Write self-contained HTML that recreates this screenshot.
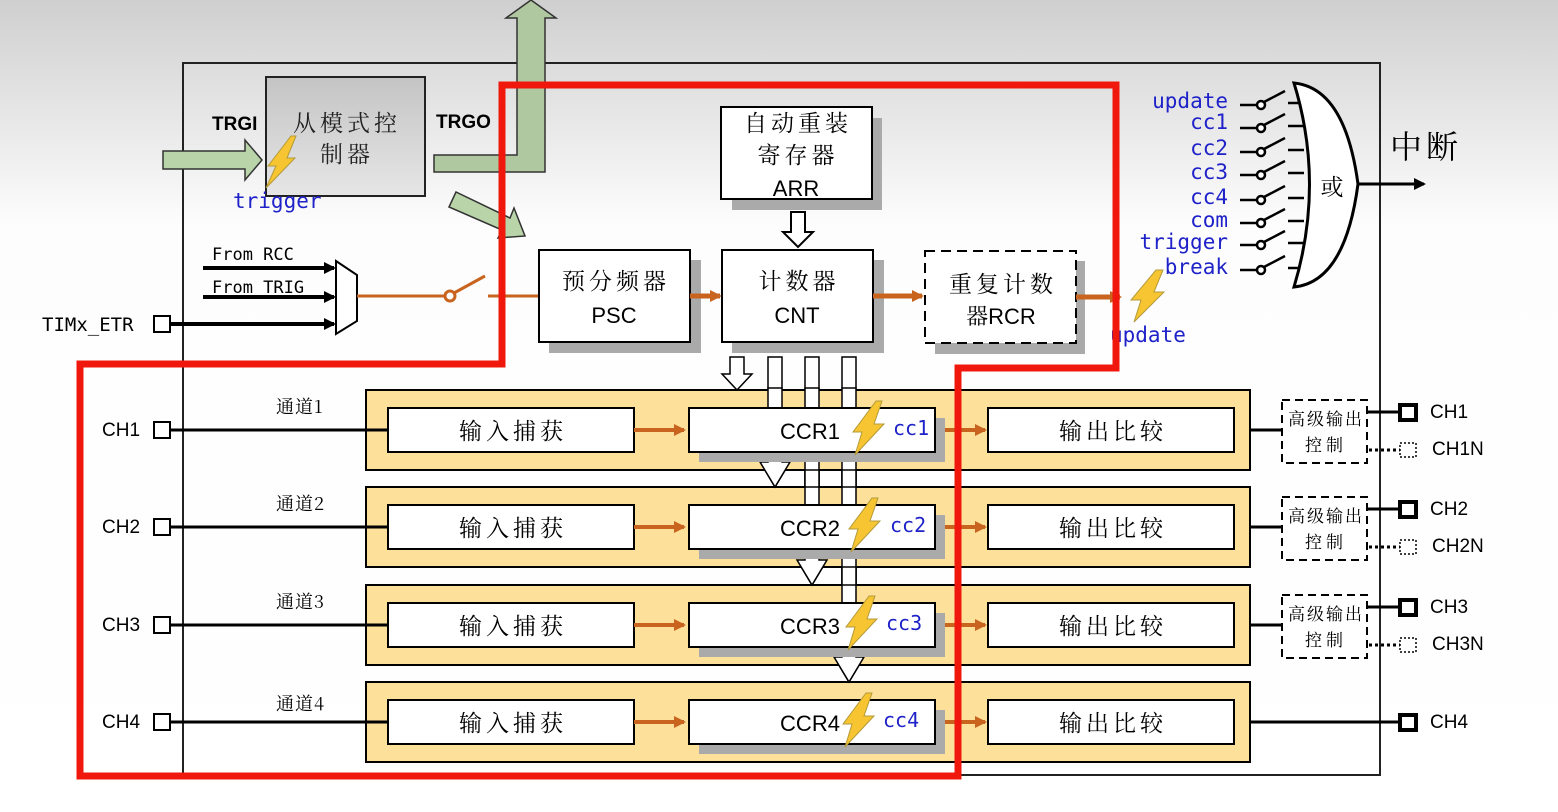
<!DOCTYPE html>
<html><head><meta charset="utf-8"><style>
html,body{margin:0;padding:0;}
body{width:1558px;height:807px;overflow:hidden;background:#fff;}
text{font-family:"Liberation Sans","Noto Serif CJK SC","Noto Sans CJK SC",sans-serif;}
text.m,.m text{font-family:"DejaVu Sans Mono","Liberation Mono",monospace;}
text.cj{font-family:"Noto Serif CJK SC","Noto Sans CJK SC",serif;letter-spacing:4px;}
</style></head><body>
<svg width="1558" height="807" viewBox="0 0 1558 807" xmlns="http://www.w3.org/2000/svg">
<defs>
<linearGradient id="bg" x1="0" y1="0" x2="0" y2="1">
<stop offset="0" stop-color="#cfcfcf"/><stop offset="0.28" stop-color="#fdfdfd"/><stop offset="1" stop-color="#ffffff"/>
</linearGradient>
<linearGradient id="gb" x1="0" y1="0" x2="0" y2="1">
<stop offset="0" stop-color="#c4c4c4"/><stop offset="1" stop-color="#e6e6e6"/>
</linearGradient>
<marker id="oa" markerWidth="12" markerHeight="12" refX="10" refY="6" orient="auto" markerUnits="userSpaceOnUse"><path d="M0,0 L12,6 L0,12Z" fill="#c8641e"/></marker>
<marker id="ba" markerWidth="12" markerHeight="12" refX="10" refY="6" orient="auto" markerUnits="userSpaceOnUse"><path d="M0,0 L12,6 L0,12Z" fill="#000"/></marker>
</defs>
<rect width="1558" height="807" fill="url(#bg)"/>
<rect x="183" y="63" width="1197" height="712" fill="none" stroke="#222" stroke-width="2"/>

<path d="M163,151 L245,151 L245,140 L262,160 L245,180 L245,169 L163,169Z" fill="#b8d4a8" stroke="#333" stroke-width="1.5"/>
<path d="M434,155 L517,155 L517,18 L506,18 L531,0 L556,18 L545,18 L545,172 L434,172Z" fill="#b0c8a0" stroke="#333" stroke-width="1.5"/>
<path d="M449,207 L456,192 L510,218 L514,208 L525,236 L498,238 L502,230Z" fill="#b8d4a8" stroke="#333" stroke-width="1.5"/>

<rect x="266" y="77" width="159" height="119" fill="url(#gb)" stroke="#222" stroke-width="2"/>
<text x="347" y="131" font-size="23" text-anchor="middle" class="cj" fill="#222">从模式控</text>
<text x="347" y="162" font-size="23" text-anchor="middle" class="cj" fill="#222">制器</text>
<text x="212" y="130" font-size="19" font-weight="bold">TRGI</text>
<text x="436" y="128" font-size="19" font-weight="bold">TRGO</text>
<path d="M291,136 L268,166 L276,166 L266,188 L295,158 L287,158 L296,136Z" fill="#f6c531" stroke="#b49a3a" stroke-width="1"/>
<text x="233" y="208" font-size="21" class="m" fill="#1e22c8">trigger</text>

<text x="212" y="260" font-size="17" class="m">From RCC</text>
<text x="212" y="293" font-size="17" class="m">From TRIG</text>
<line x1="203" y1="268" x2="334" y2="268" stroke="#000" stroke-width="4" marker-end="url(#ba)"/>
<line x1="203" y1="297" x2="334" y2="297" stroke="#000" stroke-width="4" marker-end="url(#ba)"/>
<line x1="170" y1="324" x2="334" y2="324" stroke="#000" stroke-width="4" marker-end="url(#ba)"/>
<rect x="154" y="316" width="16" height="16" fill="#fff" stroke="#000" stroke-width="2"/>
<text x="42" y="331" font-size="19" class="m">TIMx_ETR</text>
<path d="M336,261 L357,275 L357,321 L336,334Z" fill="#fff" stroke="#000" stroke-width="2"/>
<line x1="357" y1="296" x2="445" y2="296" stroke="#c8641e" stroke-width="3"/>
<circle cx="450" cy="296" r="5" fill="#fff" stroke="#c8641e" stroke-width="3"/>
<line x1="454" y1="293" x2="485" y2="276" stroke="#c8641e" stroke-width="3"/>
<line x1="488" y1="296" x2="539" y2="296" stroke="#c8641e" stroke-width="3"/>

<rect x="732" y="118" width="150" height="92" fill="#aaa"/>
<rect x="721" y="107" width="151" height="92" fill="#fff" stroke="#000" stroke-width="2"/>
<text x="798" y="131" font-size="23" text-anchor="middle" class="cj">自动重装</text>
<text x="798" y="163" font-size="23" text-anchor="middle" class="cj">寄存器</text>
<text x="796" y="196" font-size="22" text-anchor="middle">ARR</text>
<path d="M791,212 L805,212 L805,232 L813,232 L798,247 L783,232 L791,232Z" fill="#fff" stroke="#000" stroke-width="2"/>

<rect x="549" y="260" width="152" height="93" fill="#aaa"/>
<rect x="539" y="250" width="151" height="92" fill="#fff" stroke="#000" stroke-width="2"/>
<text x="616" y="289" font-size="23" text-anchor="middle" class="cj">预分频器</text>
<text x="614" y="323" font-size="22" text-anchor="middle">PSC</text>
<line x1="690" y1="296" x2="720" y2="296" stroke="#c8641e" stroke-width="5" marker-end="url(#oa)"/>

<rect x="732" y="260" width="152" height="93" fill="#aaa"/>
<rect x="722" y="250" width="151" height="92" fill="#fff" stroke="#000" stroke-width="2"/>
<text x="799" y="289" font-size="23" text-anchor="middle" class="cj">计数器</text>
<text x="797" y="323" font-size="22" text-anchor="middle">CNT</text>
<line x1="873" y1="296" x2="922" y2="296" stroke="#c8641e" stroke-width="5" marker-end="url(#oa)"/>

<rect x="935" y="261" width="150" height="93" fill="#aaa"/>
<rect x="925" y="251" width="151" height="92" fill="#fff" stroke="#000" stroke-width="2" stroke-dasharray="10,6"/>
<text x="1003" y="292" font-size="23" text-anchor="middle" class="cj">重复计数</text>
<text x="1001" y="324" font-size="22" text-anchor="middle">器RCR</text>
<line x1="1076" y1="297" x2="1120" y2="297" stroke="#c8641e" stroke-width="5" marker-end="url(#oa)"/>
<path d="M1156,270 L1131,300 L1141,300 L1134,322 L1164,292 L1154,292 L1163,270Z" fill="#f6c531" stroke="#b49a3a" stroke-width="1"/>
<text x="1110" y="342" font-size="21" class="m" fill="#1e22c8">update</text>

<g font-size="21" class="m" fill="#1e22c8" text-anchor="end">
<text x="1228" y="108">update</text><text x="1228" y="129">cc1</text><text x="1228" y="155">cc2</text><text x="1228" y="179">cc3</text>
<text x="1228" y="204">cc4</text><text x="1228" y="227">com</text><text x="1228" y="249">trigger</text><text x="1228" y="274">break</text>
</g>
<g stroke="#000" stroke-width="2.5" fill="#fff">
<g id="sw"><line x1="1240" y1="105" x2="1256" y2="105"/><circle cx="1261" cy="105" r="4"/><line x1="1264" y1="102" x2="1285" y2="91"/><line x1="1288" y1="103" x2="1304" y2="103" /></g>
<use href="#sw" y="23"/><use href="#sw" y="47"/><use href="#sw" y="70"/><use href="#sw" y="95"/><use href="#sw" y="118"/><use href="#sw" y="140"/><use href="#sw" y="165"/>
</g>
<path d="M1294,83 Q1345,88 1358,184 Q1345,282 1294,287 Q1325,184 1294,83Z" fill="#fff" stroke="#000" stroke-width="3"/>
<text x="1334" y="195" font-size="23" text-anchor="middle" class="cj">或</text>
<line x1="1358" y1="184" x2="1424" y2="184" stroke="#000" stroke-width="3" marker-end="url(#ba)"/>
<text x="1390" y="158" font-size="32" class="cj">中断</text>

<g fill="#fff" stroke="#000" stroke-width="1.5">
<path d="M730,357 L744,357 L744,374 L752,374 L737,390 L722,374 L730,374Z"/>
<path d="M768,357 L782,357 L782,462 L790,462 L775,487 L760,462 L768,462Z"/>
<path d="M805,357 L819,357 L819,560 L827,560 L812,585 L797,560 L805,560Z"/>
<path d="M842,357 L856,357 L856,657 L864,657 L849,682 L834,657 L842,657Z"/>
</g>

<g stroke="#000">
<rect x="366" y="390" width="884" height="80" fill="#fde19a" stroke-width="2"/>
<rect x="366" y="487" width="884" height="80" fill="#fde19a" stroke-width="2"/>
<rect x="366" y="585" width="884" height="80" fill="#fde19a" stroke-width="2"/>
<rect x="366" y="682" width="884" height="80" fill="#fde19a" stroke-width="2"/>
</g>
<g fill="#fff" stroke="#000" stroke-width="1.5">
<path d="M768,388 L782,388 L782,462 L790,462 L775,487 L760,462 L768,462Z"/>
<path d="M805,388 L819,388 L819,560 L827,560 L812,585 L797,560 L805,560Z"/>
<path d="M842,388 L856,388 L856,657 L864,657 L849,682 L834,657 L842,657Z"/>
</g>

<g>
<line x1="170" y1="430" x2="388" y2="430" stroke="#000" stroke-width="3"/>
<rect x="154" y="422" width="16" height="16" fill="#fff" stroke="#000" stroke-width="2"/>
<text x="102" y="436" font-size="19">CH1</text>
<text x="276" y="413" font-size="18" class="cj" style="letter-spacing:1px">通道1</text>
<rect x="388" y="408" width="246" height="44" fill="#fff" stroke="#000" stroke-width="2"/>
<text x="513" y="439" font-size="23" text-anchor="middle" class="cj">输入捕获</text>
<line x1="634" y1="430" x2="684" y2="430" stroke="#c8641e" stroke-width="4" marker-end="url(#oa)"/>
<rect x="699" y="418" width="246" height="44" fill="#aaa"/>
<rect x="689" y="408" width="246" height="44" fill="#fff" stroke="#000" stroke-width="2"/>
<text x="810" y="439" font-size="22" text-anchor="middle">CCR1</text>
<text x="893" y="435" font-size="20" class="m" fill="#1e22c8">cc1</text>
<path d="M876,401 L853,432 L862,432 L855,455 L884,424 L874,424 L882,401Z" fill="#f6c531" stroke="#b49a3a" stroke-width="1"/>
<line x1="945" y1="430" x2="985" y2="430" stroke="#c8641e" stroke-width="4" marker-end="url(#oa)"/>
<rect x="988" y="408" width="246" height="44" fill="#fff" stroke="#000" stroke-width="2"/>
<text x="1113" y="439" font-size="23" text-anchor="middle" class="cj">输出比较</text>
<line x1="1250" y1="430" x2="1282" y2="430" stroke="#000" stroke-width="3"/>
<rect x="1282" y="400" width="85" height="63" fill="#fff" stroke="#000" stroke-width="2" stroke-dasharray="8,5"/>
<text x="1326" y="425" font-size="17" text-anchor="middle" class="cj" style="letter-spacing:2px">高级输出</text>
<text x="1326" y="451" font-size="17" text-anchor="middle" class="cj">控制</text>
<line x1="1367" y1="412" x2="1400" y2="412" stroke="#000" stroke-width="3"/>
<rect x="1400" y="405" width="16" height="15" fill="#fff" stroke="#000" stroke-width="4"/>
<line x1="1369" y1="450" x2="1400" y2="450" stroke="#000" stroke-width="3" stroke-dasharray="3,3"/>
<rect x="1400" y="443" width="16" height="14" fill="#fff" stroke="#000" stroke-width="1.5" stroke-dasharray="2,2"/>
<text x="1430" y="418" font-size="19">CH1</text>
<text x="1432" y="455" font-size="19">CH1N</text>
</g>

<g transform="translate(0,97)">
<line x1="170" y1="430" x2="388" y2="430" stroke="#000" stroke-width="3"/>
<rect x="154" y="422" width="16" height="16" fill="#fff" stroke="#000" stroke-width="2"/>
<text x="102" y="436" font-size="19">CH2</text>
<text x="276" y="413" font-size="18" class="cj" style="letter-spacing:1px">通道2</text>
<rect x="388" y="408" width="246" height="44" fill="#fff" stroke="#000" stroke-width="2"/>
<text x="513" y="439" font-size="23" text-anchor="middle" class="cj">输入捕获</text>
<line x1="634" y1="430" x2="684" y2="430" stroke="#c8641e" stroke-width="4" marker-end="url(#oa)"/>
<rect x="699" y="418" width="246" height="44" fill="#aaa"/>
<rect x="689" y="408" width="246" height="44" fill="#fff" stroke="#000" stroke-width="2"/>
<text x="810" y="439" font-size="22" text-anchor="middle">CCR2</text>
<text x="890" y="435" font-size="20" class="m" fill="#1e22c8">cc2</text>
<path d="M872,401 L849,432 L858,432 L851,455 L880,424 L870,424 L878,401Z" fill="#f6c531" stroke="#b49a3a" stroke-width="1"/>
<line x1="945" y1="430" x2="985" y2="430" stroke="#c8641e" stroke-width="4" marker-end="url(#oa)"/>
<rect x="988" y="408" width="246" height="44" fill="#fff" stroke="#000" stroke-width="2"/>
<text x="1113" y="439" font-size="23" text-anchor="middle" class="cj">输出比较</text>
<line x1="1250" y1="430" x2="1282" y2="430" stroke="#000" stroke-width="3"/>
<rect x="1282" y="400" width="85" height="63" fill="#fff" stroke="#000" stroke-width="2" stroke-dasharray="8,5"/>
<text x="1326" y="425" font-size="17" text-anchor="middle" class="cj" style="letter-spacing:2px">高级输出</text>
<text x="1326" y="451" font-size="17" text-anchor="middle" class="cj">控制</text>
<line x1="1367" y1="412" x2="1400" y2="412" stroke="#000" stroke-width="3"/>
<rect x="1400" y="405" width="16" height="15" fill="#fff" stroke="#000" stroke-width="4"/>
<line x1="1369" y1="450" x2="1400" y2="450" stroke="#000" stroke-width="3" stroke-dasharray="3,3"/>
<rect x="1400" y="443" width="16" height="14" fill="#fff" stroke="#000" stroke-width="1.5" stroke-dasharray="2,2"/>
<text x="1430" y="418" font-size="19">CH2</text>
<text x="1432" y="455" font-size="19">CH2N</text>
</g>

<g transform="translate(0,195)">
<line x1="170" y1="430" x2="388" y2="430" stroke="#000" stroke-width="3"/>
<rect x="154" y="422" width="16" height="16" fill="#fff" stroke="#000" stroke-width="2"/>
<text x="102" y="436" font-size="19">CH3</text>
<text x="276" y="413" font-size="18" class="cj" style="letter-spacing:1px">通道3</text>
<rect x="388" y="408" width="246" height="44" fill="#fff" stroke="#000" stroke-width="2"/>
<text x="513" y="439" font-size="23" text-anchor="middle" class="cj">输入捕获</text>
<line x1="634" y1="430" x2="684" y2="430" stroke="#c8641e" stroke-width="4" marker-end="url(#oa)"/>
<rect x="699" y="418" width="246" height="44" fill="#aaa"/>
<rect x="689" y="408" width="246" height="44" fill="#fff" stroke="#000" stroke-width="2"/>
<text x="810" y="439" font-size="22" text-anchor="middle">CCR3</text>
<text x="886" y="435" font-size="20" class="m" fill="#1e22c8">cc3</text>
<path d="M869,401 L846,432 L855,432 L848,455 L877,424 L867,424 L875,401Z" fill="#f6c531" stroke="#b49a3a" stroke-width="1"/>
<line x1="945" y1="430" x2="985" y2="430" stroke="#c8641e" stroke-width="4" marker-end="url(#oa)"/>
<rect x="988" y="408" width="246" height="44" fill="#fff" stroke="#000" stroke-width="2"/>
<text x="1113" y="439" font-size="23" text-anchor="middle" class="cj">输出比较</text>
<line x1="1250" y1="430" x2="1282" y2="430" stroke="#000" stroke-width="3"/>
<rect x="1282" y="400" width="85" height="63" fill="#fff" stroke="#000" stroke-width="2" stroke-dasharray="8,5"/>
<text x="1326" y="425" font-size="17" text-anchor="middle" class="cj" style="letter-spacing:2px">高级输出</text>
<text x="1326" y="451" font-size="17" text-anchor="middle" class="cj">控制</text>
<line x1="1367" y1="412" x2="1400" y2="412" stroke="#000" stroke-width="3"/>
<rect x="1400" y="405" width="16" height="15" fill="#fff" stroke="#000" stroke-width="4"/>
<line x1="1369" y1="450" x2="1400" y2="450" stroke="#000" stroke-width="3" stroke-dasharray="3,3"/>
<rect x="1400" y="443" width="16" height="14" fill="#fff" stroke="#000" stroke-width="1.5" stroke-dasharray="2,2"/>
<text x="1430" y="418" font-size="19">CH3</text>
<text x="1432" y="455" font-size="19">CH3N</text>
</g>

<g transform="translate(0,292)">
<line x1="170" y1="430" x2="388" y2="430" stroke="#000" stroke-width="3"/>
<rect x="154" y="422" width="16" height="16" fill="#fff" stroke="#000" stroke-width="2"/>
<text x="102" y="436" font-size="19">CH4</text>
<text x="276" y="418" font-size="18" class="cj" style="letter-spacing:1px">通道4</text>
<rect x="388" y="408" width="246" height="44" fill="#fff" stroke="#000" stroke-width="2"/>
<text x="513" y="439" font-size="23" text-anchor="middle" class="cj">输入捕获</text>
<line x1="634" y1="430" x2="684" y2="430" stroke="#c8641e" stroke-width="4" marker-end="url(#oa)"/>
<rect x="699" y="418" width="246" height="44" fill="#aaa"/>
<rect x="689" y="408" width="246" height="44" fill="#fff" stroke="#000" stroke-width="2"/>
<text x="810" y="439" font-size="22" text-anchor="middle">CCR4</text>
<text x="883" y="435" font-size="20" class="m" fill="#1e22c8">cc4</text>
<path d="M866,401 L843,432 L852,432 L845,455 L874,424 L864,424 L872,401Z" fill="#f6c531" stroke="#b49a3a" stroke-width="1"/>
<line x1="945" y1="430" x2="985" y2="430" stroke="#c8641e" stroke-width="4" marker-end="url(#oa)"/>
<rect x="988" y="408" width="246" height="44" fill="#fff" stroke="#000" stroke-width="2"/>
<text x="1113" y="439" font-size="23" text-anchor="middle" class="cj">输出比较</text>
<line x1="1250" y1="430" x2="1400" y2="430" stroke="#000" stroke-width="3"/>
<rect x="1400" y="423" width="16" height="15" fill="#fff" stroke="#000" stroke-width="4"/>
<text x="1430" y="436" font-size="19">CH4</text>
</g>

<g fill="#fff" stroke="#000" stroke-width="1.5">
<rect x="805" y="470" width="14" height="17"/><rect x="842" y="470" width="14" height="17"/>
<rect x="842" y="567" width="14" height="18"/>
</g>

<path d="M80,776 L80,364 L502,364 L502,85 L1116,85 L1116,368 L958,368 L958,776Z" fill="none" stroke="#f0180c" stroke-width="7"/>
</svg>
</body></html>
